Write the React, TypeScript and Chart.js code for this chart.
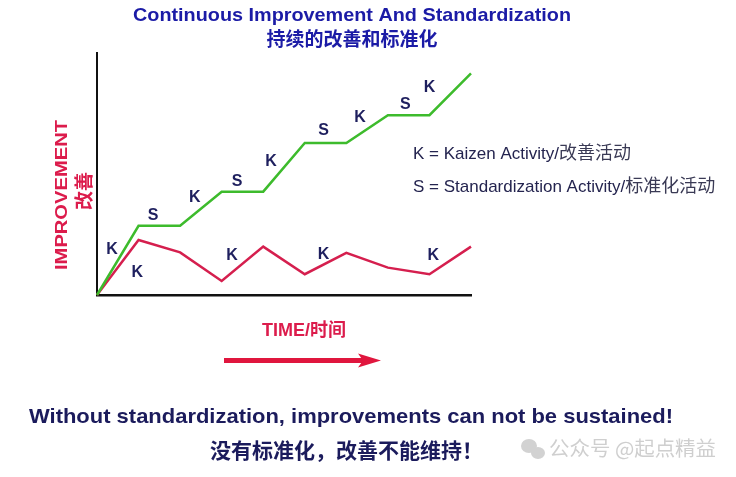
import React, { useEffect, useRef } from 'react';
import { Chart, registerables } from 'chart.js';

Chart.register(...registerables);

// ---- data ----
const steps = ['0', '1', '2', '3', '4', '5', '6', '7', '8', '9'];
const withStandardization = [0, 28.6, 28.6, 42.7, 42.7, 62.8, 62.8, 74.3, 74.3, 91.6];
const withoutStandardization = [0, 22.7, 17.6, 5.8, 20.0, 8.6, 17.4, 11.3, 8.6, 20.0];

const markText = ['K', 'K', 'S', 'K', 'S', 'K', 'S', 'K', 'S', 'K', 'K', 'K', 'K'];
const markX = [0.36, 0.97, 1.35, 2.35, 3.37, 4.19, 5.45, 6.33, 7.42, 8.0, 3.25, 5.45, 8.09];
const markY = [19.4, 9.9, 33.2, 40.7, 47.3, 55.6, 68.3, 73.9, 79.1, 86.3, 16.9, 17.1, 16.9];

const titleText = 'Continuous Improvement And Standardization';
const subtitleText = '持续的改善和标准化';
const yTitleText = 'IMPROVEMENT';
const yTitleCnText = '改善';
const xTitleText = 'TIME/时间';
const keyLines = [
  ['K = Kaizen Activity/', '改善活动'],
  ['S = Standardization Activity/', '标准化活动'],
];
const footerText = 'Without standardization, improvements can not be sustained!';
const footerCnText = '没有标准化，改善不能维持！';
const watermarkText = '公众号 @起点精益';

const SANS = "'Liberation Sans', Arial, 'Noto Sans CJK SC', sans-serif";
const CJK = "'Noto Sans CJK SC', 'Liberation Sans', sans-serif";

function drawText(
  ctx: CanvasRenderingContext2D,
  str: string,
  x: number,
  cy: number,
  size: number,
  color: string,
  opts: { weight?: string; family?: string; align?: CanvasTextAlign; width?: number; rotate?: boolean } = {}
) {
  const weight = opts.weight ?? 'bold';
  const family = opts.family ?? SANS;
  ctx.save();
  ctx.font = `${weight} ${size}px ${family}`;
  ctx.fillStyle = color;
  ctx.textBaseline = 'alphabetic';
  ctx.translate(x, cy);
  if (opts.rotate) ctx.rotate(-Math.PI / 2);
  let sx = 1;
  if (opts.width) {
    const w = ctx.measureText(str).width;
    sx = opts.width / w;
    ctx.scale(sx, 1);
  }
  ctx.textAlign = opts.align ?? 'center';
  ctx.fillText(str, 0, size * 0.36);
  ctx.restore();
}

const textPlugin = {
  id: 'pageTexts',
  afterDraw(chart: any) {
    const ctx: CanvasRenderingContext2D = chart.ctx;
    const xs = chart.scales.x;
    const ys = chart.scales.y;

    // Title
    drawText(ctx, titleText, 352, 14, 19, '#1b1ba6', { width: 438 });
    drawText(ctx, subtitleText, 352, 39, 19, '#1b1ba6', { family: CJK });

    // K / S marks
    for (let i = 0; i < markText.length; i++) {
      drawText(ctx, markText[i], xs.getPixelForValue(markX[i]), ys.getPixelForValue(markY[i]), 16, '#1e1f5e');
    }

    // Key
    keyLines.forEach((parts, i) => {
      const y = 153 + i * 33;
      ctx.save();
      ctx.font = `normal 17px ${SANS}`;
      const w = ctx.measureText(parts[0]).width;
      ctx.restore();
      drawText(ctx, parts[0], 413, y, 17, '#24244f', { weight: 'normal', align: 'left' });
      drawText(ctx, parts[1], 413 + w, y, 18, '#3a3a55', { weight: 'normal', align: 'left', family: CJK });
    });

    // Y axis title (rotated)
    drawText(ctx, yTitleText, 61, 195, 17, '#dc1c4c', { rotate: true, width: 150 });
    drawText(ctx, yTitleCnText, 84, 191, 19, '#dc1c4c', { rotate: true, family: CJK });

    // X axis title
    drawText(ctx, xTitleText, 304, 330, 18, '#dc1c4c');

    // Arrow
    ctx.save();
    ctx.strokeStyle = '#e0163e';
    ctx.fillStyle = '#e0163e';
    ctx.lineWidth = 5;
    ctx.beginPath();
    ctx.moveTo(224, 360.5);
    ctx.lineTo(366, 360.5);
    ctx.stroke();
    ctx.beginPath();
    ctx.moveTo(358, 353.5);
    ctx.lineTo(381, 360.5);
    ctx.lineTo(358, 367.5);
    ctx.lineTo(363, 360.5);
    ctx.closePath();
    ctx.fill();
    ctx.restore();

    // Footer
    drawText(ctx, footerText, 29, 415, 21, '#1b1b5c', { align: 'left', width: 644 });
    drawText(ctx, footerCnText, 210, 450, 21, '#1b1b5c', { align: 'left', family: CJK, width: 273 });

    // Watermark
    ctx.save();
    ctx.fillStyle = '#d2d2d2';
    ctx.beginPath();
    ctx.ellipse(529, 446, 8, 7, 0, 0, Math.PI * 2);
    ctx.fill();
    ctx.beginPath();
    ctx.ellipse(538, 453, 7, 6, 0, 0, Math.PI * 2);
    ctx.fill();
    ctx.restore();
    drawText(ctx, watermarkText, 549, 449, 20, '#cfcfcf', { weight: 'normal', align: 'left', family: CJK, width: 167 });
  },
};

export default function App() {
  const canvasRef = useRef<HTMLCanvasElement | null>(null);

  useEffect(() => {
    if (!canvasRef.current) return;
    const chart = new Chart(canvasRef.current, {
      type: 'line',
      data: {
        labels: steps,
        datasets: [
          {
            label: 'With standardization',
            data: withStandardization,
            borderColor: '#3dbb2c',
            borderWidth: 2.5,
            pointRadius: 0,
            tension: 0,
            fill: false,
            clip: false as any,
          },
          {
            label: 'Without standardization',
            data: withoutStandardization,
            borderColor: '#d51f4e',
            borderWidth: 2.5,
            pointRadius: 0,
            tension: 0,
            fill: false,
            clip: false as any,
          },
        ],
      },
      options: {
        responsive: false,
        animation: false,
        layout: { padding: { left: 97, top: 53, right: 265, bottom: 182 } },
        plugins: {
          legend: { display: false },
          title: { display: false },
          tooltip: { enabled: false },
        },
        scales: {
          x: {
            grid: { display: false, drawTicks: false },
            ticks: { display: false },
            border: { display: true, color: '#111111', width: 2.5 },
            afterFit: (s: any) => { s.height = 0; },
          },
          y: {
            min: 0,
            max: 100,
            grid: { display: false, drawTicks: false },
            ticks: { display: false },
            border: { display: true, color: '#111111', width: 2 },
            afterFit: (s: any) => { s.width = 0; },
          },
        },
      },
      plugins: [textPlugin],
    });
    return () => chart.destroy();
  }, []);

  return (
    <div style={{ position: 'fixed', left: 0, top: 0, width: 736, height: 477, background: '#ffffff' }}>
      <canvas ref={canvasRef} width={736} height={477} style={{ display: 'block', width: 736, height: 477 }} />
    </div>
  );
}
